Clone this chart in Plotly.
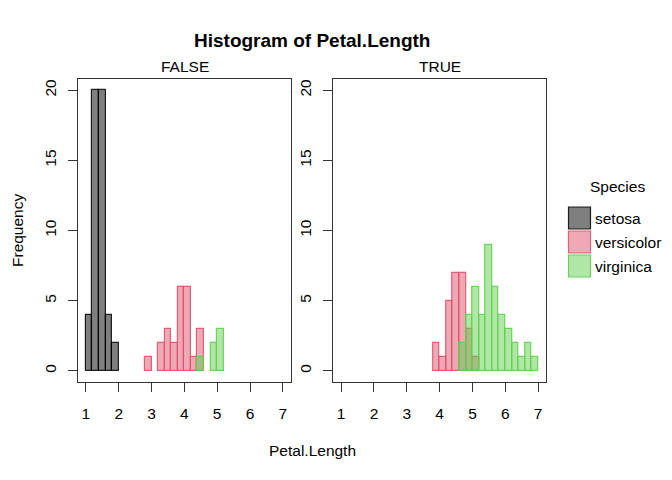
import plotly.graph_objects as go

# bins of width 0.2 from 1.0 to 7.0 (left edges)
bin_width = 0.2
bin_lefts = [round(1.0 + bin_width * i, 1) for i in range(30)]

species = ["setosa", "versicolor", "virginica"]
fills = ["rgba(0,0,0,0.5)", "rgba(223,83,107,0.5)", "rgba(97,208,79,0.5)"]
borders = ["rgba(0,0,0,0.85)", "rgba(223,83,107,0.9)", "rgba(97,208,79,0.9)"]

# counts per bin, panel FALSE
setosa_false = [4, 20, 20, 4, 2] + [0] * 25
versicolor_false = [0] * 9 + [1, 0, 2, 3, 2, 6, 6, 1, 3] + [0] * 12
virginica_false = [0] * 17 + [1, 0, 2, 3] + [0] * 9

# counts per bin, panel TRUE
setosa_true = [0] * 30
versicolor_true = [0] * 14 + [2, 1, 5, 7, 7, 3, 1] + [0] * 9
virginica_true = [0] * 18 + [2, 4, 6, 4, 9, 6, 4, 3, 2, 1, 2, 1]

panels = {
    "FALSE": [setosa_false, versicolor_false, virginica_false],
    "TRUE": [setosa_true, versicolor_true, virginica_true],
}

x_ticks = [1, 2, 3, 4, 5, 6, 7]
y_ticks = [0, 5, 10, 15, 20]

font = "Liberation Sans, Arial, sans-serif"

# the page body adds an 8px margin, so the figure is drawn 8px smaller
# and every position below is given in window pixels minus that offset
OFF = 8
W, H = 672 - 2 * OFF, 480 - 2 * OFF
left, right, top, bottom = 78 - OFF, 546 - OFF, 79 - OFF, 382 - OFF

fig = go.Figure()

for p, (name, counts_list) in enumerate(panels.items()):
    axis_suffix = "" if p == 0 else "2"
    for s, counts in enumerate(counts_list):
        xs = [b + bin_width / 2 for b, c in zip(bin_lefts, counts) if c > 0]
        ys = [c for c in counts if c > 0]
        if not xs:
            continue
        fig.add_trace(go.Bar(
            x=xs, y=ys, width=bin_width,
            marker=dict(color=fills[s], line=dict(color=borders[s], width=1.2)),
            name=species[s], showlegend=False,
            xaxis="x" + axis_suffix, yaxis="y" + axis_suffix,
        ))

axis_common = dict(
    showline=True, mirror=True, linecolor="#333", linewidth=1,
    ticks="outside", ticklen=9, tickcolor="#333", tickwidth=1,
    showgrid=False, zeroline=False,
    tickfont=dict(family=font, size=15.5, color="black"),
)

fig.update_layout(
    width=W, height=H,
    margin=dict(l=left, r=W - right, t=top, b=H - bottom),
    paper_bgcolor="white", plot_bgcolor="white",
    barmode="overlay", bargap=0,
    font=dict(family=font, size=15.5, color="black"),
    xaxis=dict(domain=[0, 0.4545], range=[0.76, 7.24], tickvals=x_ticks,
               ticklabelstandoff=8, **axis_common),
    xaxis2=dict(domain=[0.5455, 1], range=[0.76, 7.24], tickvals=x_ticks, anchor="y2",
                ticklabelstandoff=8, **axis_common),
    yaxis=dict(range=[-0.8, 20.8], tickvals=y_ticks, tickangle=-90,
               ticklabelstandoff=6, **axis_common),
    yaxis2=dict(range=[-0.8, 20.8], tickvals=y_ticks, tickangle=-90, anchor="x2",
                ticklabelstandoff=6, **axis_common),
)

def px_x(px):
    return (px - OFF - left) / (right - left)

def px_y(py):
    return (bottom - (py - OFF)) / (bottom - top)

annotations = [
    dict(text="<b>Histogram of Petal.Length</b>", x=px_x(312), y=px_y(40), font=dict(size=19)),
    dict(text="FALSE", x=px_x(184.5), y=px_y(66)),
    dict(text="TRUE", x=px_x(439.5), y=px_y(66)),
    dict(text="Petal.Length", x=px_x(312), y=px_y(450)),
    dict(text="Frequency", x=px_x(17), y=px_y(230), textangle=-90),
    dict(text="Species", x=px_x(617.5), y=px_y(186)),
]
for a in annotations:
    a.update(xref="paper", yref="paper", showarrow=False, xanchor="center", yanchor="middle")
    fig.add_annotation(**a)

# legend keys
key_tops = [207, 231, 255]
shapes = []
for s, kt in enumerate(key_tops):
    shapes.append(dict(
        type="rect", xref="paper", yref="paper",
        x0=px_x(568.5), x1=px_x(590.5), y0=px_y(kt + 22), y1=px_y(kt),
        fillcolor=fills[s], line=dict(color=borders[s], width=1.2),
    ))
    fig.add_annotation(
        text=species[s], xref="paper", yref="paper", showarrow=False,
        x=px_x(593), y=px_y(kt + 11), xanchor="left", yanchor="middle",
    )
fig.update_layout(shapes=shapes)

fig.write_html("out.html")
